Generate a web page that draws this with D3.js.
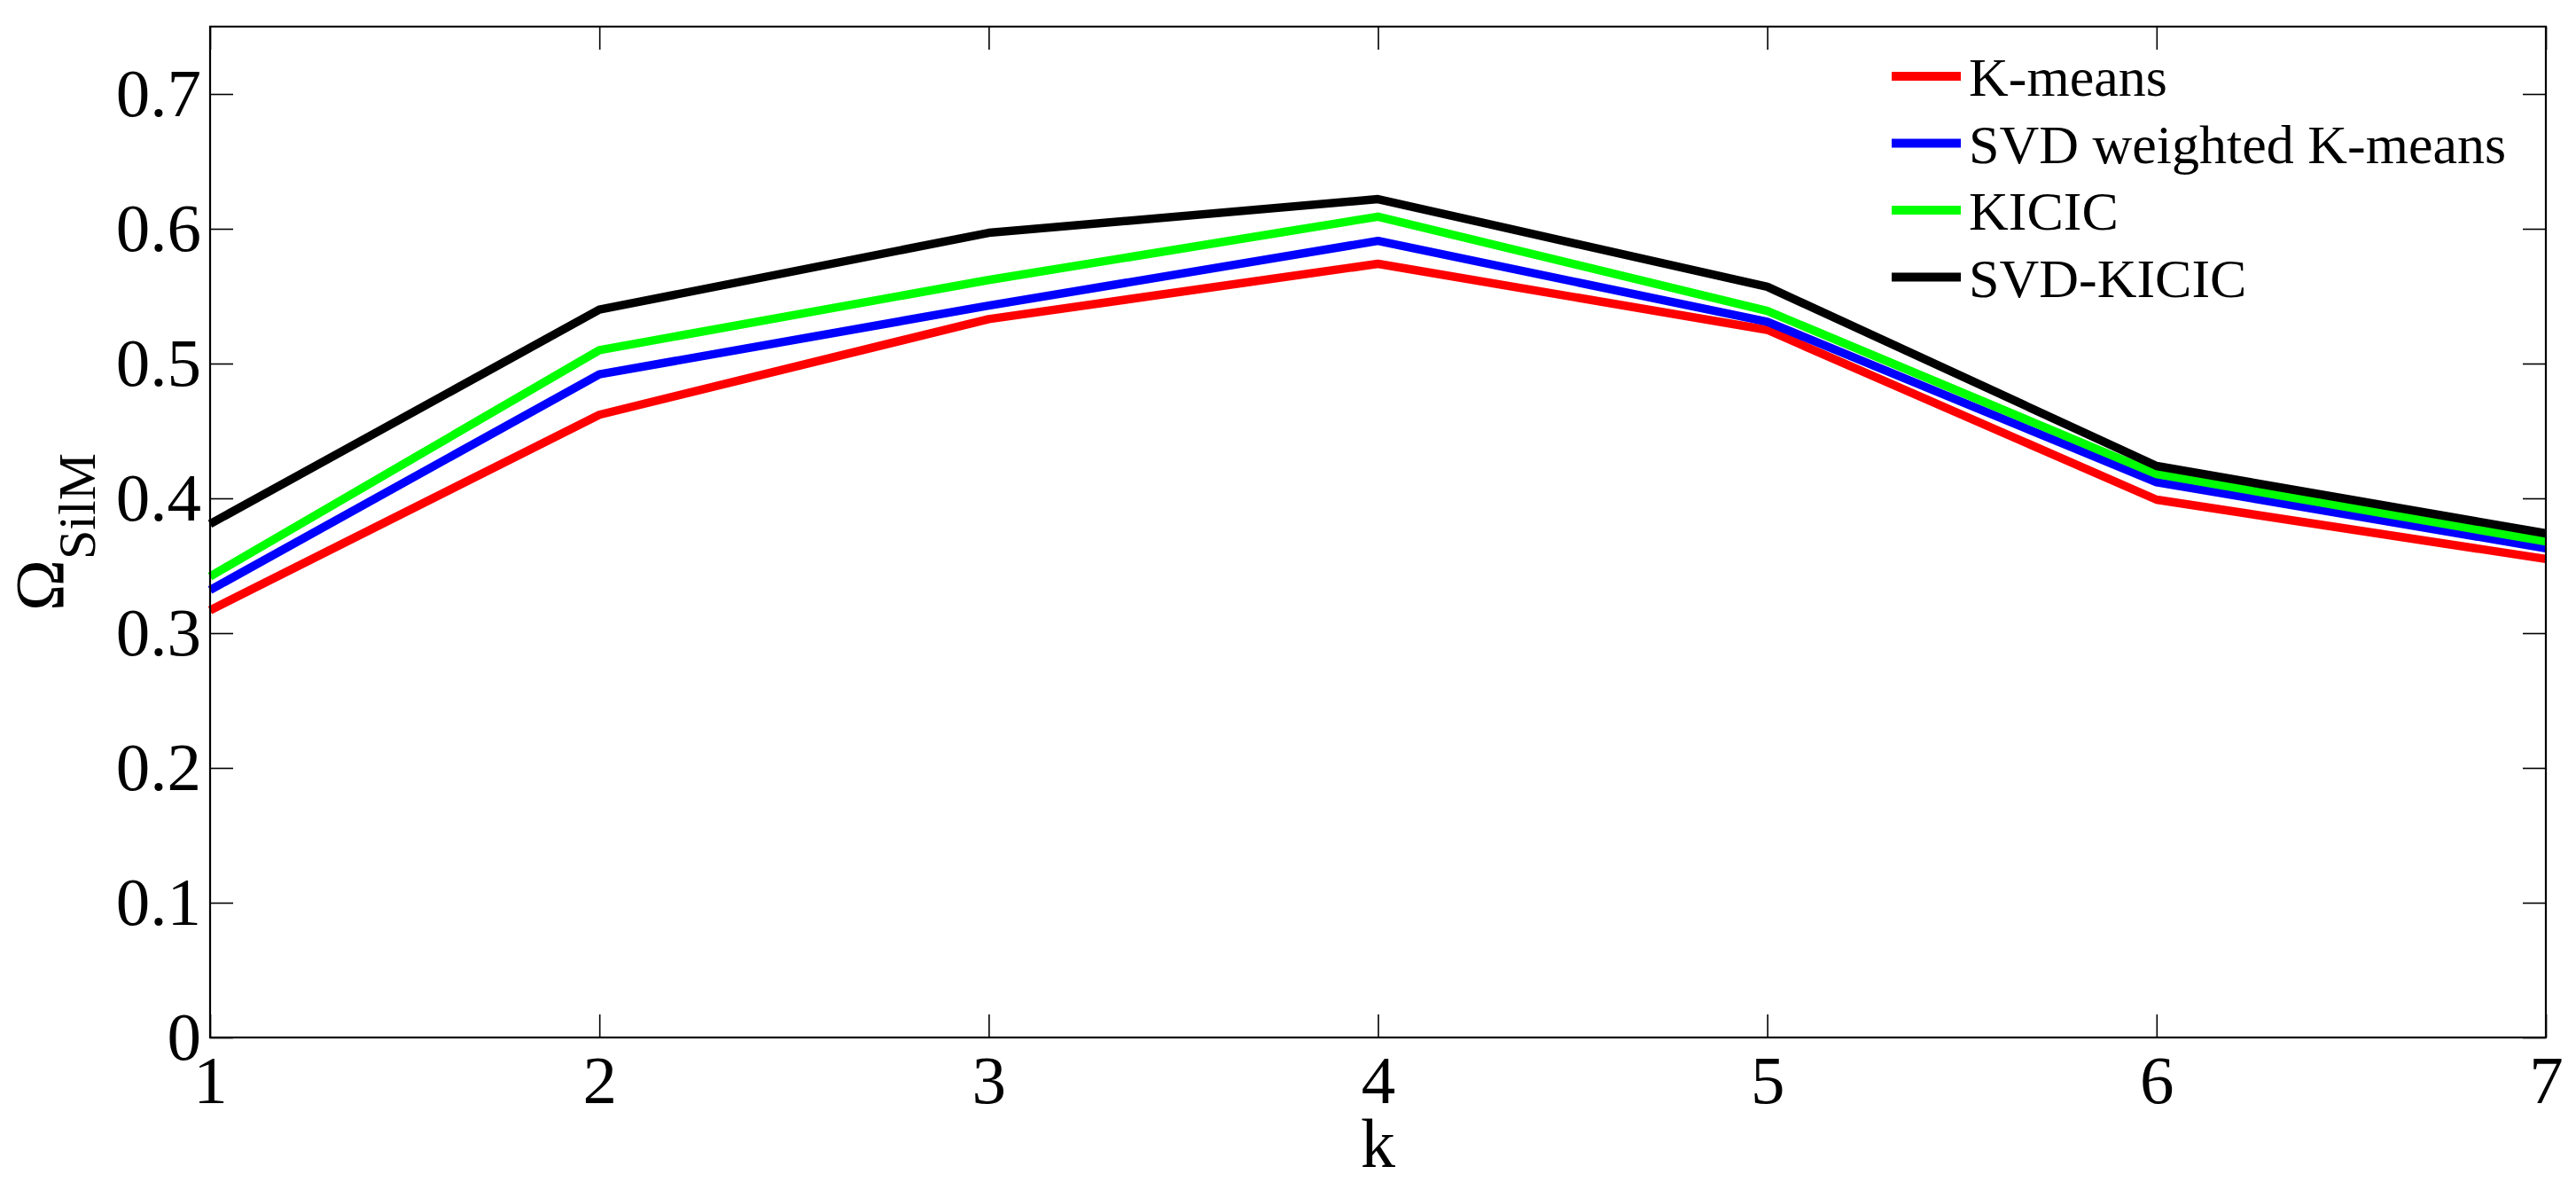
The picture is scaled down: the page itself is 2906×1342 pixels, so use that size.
<!DOCTYPE html>
<html>
<head>
<meta charset="utf-8">
<script src="https://cdn.jsdelivr.net/npm/d3@7"></script>
<style>
  body { margin: 0; background: #fff; }
  text { font-family: "Liberation Serif", "Times New Roman", serif; fill: #000; }
</style>
</head>
<body>
<div id="chart"></div>
<script>
// data
const kValues = [1, 2, 3, 4, 5, 6, 7];
const kmeans    = [0.317, 0.462, 0.533, 0.574, 0.525, 0.399, 0.355];
const svdKmeans = [0.332, 0.492, 0.543, 0.591, 0.531, 0.412, 0.363];
const kicic     = [0.342, 0.510, 0.562, 0.609, 0.539, 0.418, 0.368];
const svdKicic  = [0.381, 0.540, 0.597, 0.622, 0.557, 0.424, 0.374];
const seriesNames  = ["K-means", "SVD weighted K-means", "KICIC", "SVD-KICIC"];
const seriesColors = ["#ff0000", "#0000ff", "#00ff00", "#000000"];
const yTicks = [0, 0.1, 0.2, 0.3, 0.4, 0.5, 0.6, 0.7];

const W = 2906, H = 1342;
const margin = {top: 30, right: 34, bottom: 172, left: 237},
      width = W - margin.left - margin.right,
      height = H - margin.top - margin.bottom;

const svg = d3.select("#chart")
  .append("svg")
    .attr("width", W)
    .attr("height", H)
  .append("g")
    .attr("transform", `translate(${margin.left},${margin.top})`);

const x = d3.scaleLinear().domain([1, 7]).range([0, width]);
const y = d3.scaleLinear().domain([0, 0.75]).range([height, 0]);

const series = [kmeans, svdKmeans, kicic, svdKicic].map((vals, i) => ({
  name: seriesNames[i],
  color: seriesColors[i],
  values: vals.map((v, j) => ({k: kValues[j], v: v}))
}));

// lines
const line = d3.line().x(d => x(d.k)).y(d => y(d.v));
svg.selectAll(".series")
  .data(series)
  .join("path")
    .attr("class", "series")
    .attr("fill", "none")
    .attr("stroke", d => d.color)
    .attr("stroke-width", 9.5)
    .attr("stroke-linejoin", "round")
    .attr("d", d => line(d.values));

// axes, ticks pointing inward (matlab style)
const tickLen = 26;
function styleAxis(g, fs) {
  g.attr("font-family", null).attr("font-size", fs);
  g.select(".domain").remove();
  g.selectAll(".tick line").attr("stroke", "#000").attr("stroke-width", 1.6);
}

svg.append("g")
  .call(d3.axisLeft(y).tickValues(yTicks).tickFormat(d3.format("~g"))
    .tickSize(-tickLen).tickSizeOuter(0).tickPadding(10))
  .call(g => styleAxis(g, 77));

svg.append("g")
  .attr("transform", `translate(0,${height})`)
  .call(d3.axisBottom(x).tickValues(kValues).tickFormat(d3.format("d"))
    .tickSize(-tickLen).tickSizeOuter(0).tickPadding(19))
  .call(g => styleAxis(g, 77));

svg.append("g")
  .attr("transform", `translate(${width},0)`)
  .call(d3.axisRight(y).tickValues(yTicks).tickFormat("").tickSize(-tickLen).tickSizeOuter(0))
  .call(g => styleAxis(g, 10));

svg.append("g")
  .call(d3.axisTop(x).tickValues(kValues).tickFormat("").tickSize(-tickLen).tickSizeOuter(0))
  .call(g => styleAxis(g, 10));

// box
svg.append("rect")
  .attr("width", width)
  .attr("height", height)
  .attr("fill", "none")
  .attr("stroke", "#000")
  .attr("stroke-width", 2.2);

// axis labels
svg.append("text")
  .attr("text-anchor", "middle")
  .attr("x", width / 2)
  .attr("y", height + 146)
  .attr("font-size", 78)
  .text("k");

const yl = svg.append("text")
  .attr("text-anchor", "middle")
  .attr("transform", `translate(${71 - margin.left},${height / 2}) rotate(-90)`)
  .attr("font-size", 78);
yl.append("tspan").text("Ω");
yl.append("tspan").attr("font-size", 60).attr("dy", 36).text("SilM");

// legend
const legend = svg.append("g")
  .attr("transform", `translate(${2134 - margin.left},${86 - margin.top})`);
const item = legend.selectAll(".item")
  .data(series)
  .join("g")
    .attr("class", "item")
    .attr("transform", (d, i) => `translate(0,${i * 75.5})`);
item.append("line")
  .attr("x1", 0).attr("x2", 78)
  .attr("stroke", d => d.color)
  .attr("stroke-width", 10);
item.append("text")
  .attr("x", 87)
  .attr("y", 22)
  .attr("font-size", 62)
  .text(d => d.name);
</script>
</body>
</html>
